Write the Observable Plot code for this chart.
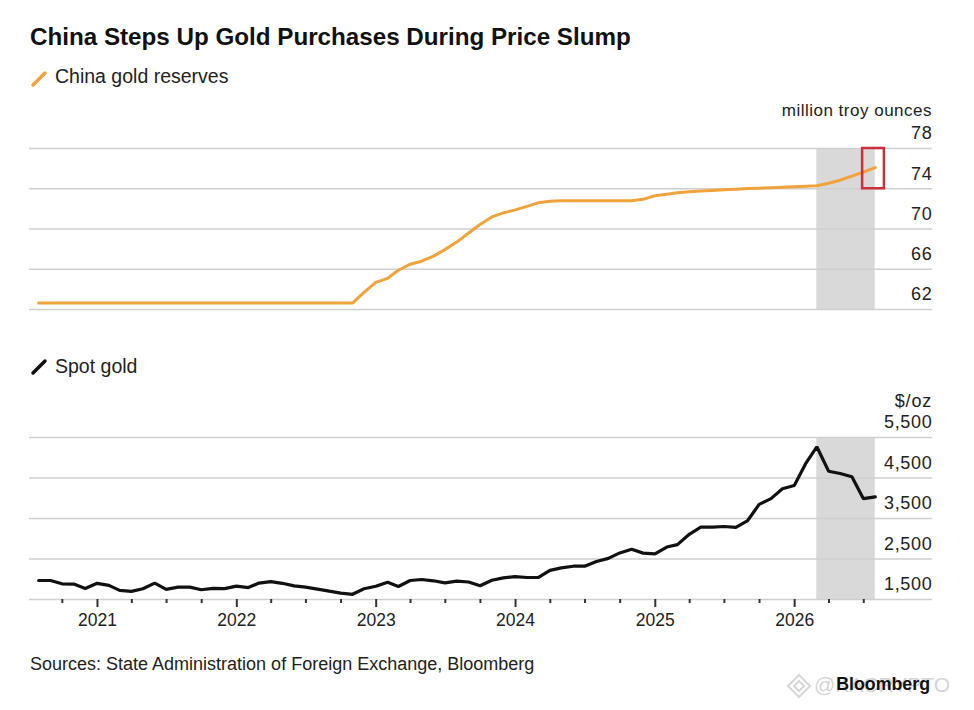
<!DOCTYPE html>
<html><head><meta charset="utf-8">
<script src="https://cdn.jsdelivr.net/npm/d3@7"></script>
<script src="https://cdn.jsdelivr.net/npm/@observablehq/plot@0.6"></script>
<style>
body{margin:0;background:#fff;}
#wrap{position:relative;width:974px;height:710px;font-family:"Liberation Sans",Arial,sans-serif;color:#111;overflow:hidden;background:#fff}
.t{position:absolute;line-height:1;white-space:nowrap}
.chart{position:absolute;left:0}
</style></head><body><div id="wrap">
<div class="t" style="left:30px;top:25px;font-size:24.2px;font-weight:bold;color:#111">China Steps Up Gold Purchases During Price Slump</div>
<svg class="t" style="left:30px;top:70px" width="18" height="18"><line x1="3" y1="15" x2="15" y2="3" stroke="#f0a33b" stroke-width="3.5" stroke-linecap="round"/></svg>
<div class="t" style="left:55px;top:66.5px;font-size:19.5px;color:#222">China gold reserves</div>
<div class="t" style="right:42px;top:102px;font-size:17px;letter-spacing:0.5px;color:#222">million troy ounces</div>
<div class="chart" id="c1" style="top:120px"></div>
<svg class="t" style="left:30px;top:358px" width="18" height="18"><line x1="3" y1="15" x2="15" y2="3" stroke="#111" stroke-width="3.5" stroke-linecap="round"/></svg>
<div class="t" style="left:55px;top:356.5px;font-size:19.5px;color:#222">Spot gold</div>
<div class="t" style="right:42px;top:391.5px;font-size:18px;letter-spacing:0.8px;color:#222">$/oz</div>
<div class="chart" id="c2" style="top:410px"></div>
<div class="t" style="left:30px;top:655px;font-size:18px;color:#222">Sources: State Administration of Foreign Exchange, Bloomberg</div>
<svg class="t" style="left:786px;top:673px" width="26" height="26"><path d="M13 2 L24 13 L13 24 L2 13 Z M13 8 L18 13 L13 18 L8 13 Z" fill="none" stroke="#d6d6d6" stroke-width="2"/></svg>
<div class="t" style="left:814px;top:674px;font-size:21px;color:#d4d4d4">@KACRYPTO</div>
<div class="t" style="right:44px;top:676px;font-size:17.8px;font-weight:bold;color:#111">Bloomberg</div>
</div>
<script>
const months = [
"2020-07","2020-08","2020-09","2020-10","2020-11","2020-12",
"2021-01","2021-02","2021-03","2021-04","2021-05","2021-06","2021-07","2021-08","2021-09","2021-10","2021-11","2021-12",
"2022-01","2022-02","2022-03","2022-04","2022-05","2022-06","2022-07","2022-08","2022-09","2022-10","2022-11","2022-12",
"2023-01","2023-02","2023-03","2023-04","2023-05","2023-06","2023-07","2023-08","2023-09","2023-10","2023-11","2023-12",
"2024-01","2024-02","2024-03","2024-04","2024-05","2024-06","2024-07","2024-08","2024-09","2024-10","2024-11","2024-12",
"2025-01","2025-02","2025-03","2025-04","2025-05","2025-06","2025-07","2025-08","2025-09","2025-10","2025-11","2025-12",
"2026-01","2026-02","2026-03","2026-04","2026-05","2026-06","2026-07"];
const reserves = [
62.64,62.64,62.64,62.64,62.64,62.64,
62.64,62.64,62.64,62.64,62.64,62.64,62.64,62.64,62.64,62.64,62.64,62.64,
62.64,62.64,62.64,62.64,62.64,62.64,62.64,62.64,62.64,62.64,63.7,64.7,
65.1,65.9,66.5,66.8,67.3,67.95,68.7,69.6,70.45,71.2,71.6,71.9,
72.25,72.6,72.75,72.8,72.8,72.8,72.8,72.8,72.8,72.8,72.95,73.3,
73.45,73.6,73.7,73.77,73.83,73.9,73.96,74.02,74.06,74.1,74.14,74.2,
74.25,74.3,74.55,74.85,75.25,75.65,76.1];
const spotGold = [
1969,1969,1888,1880,1770,1900,
1850,1725,1700,1765,1905,1750,1805,1805,1740,1775,1770,1829,
1795,1905,1940,1900,1838,1805,1755,1705,1658,1628,1764,1826,
1928,1822,1969,1994,1962,1912,1955,1932,1838,1975,2035,2065,
2043,2043,2220,2280,2322,2322,2440,2515,2650,2742,2645,2628,
2795,2855,3110,3286,3288,3302,3280,3450,3850,3990,4235,4315,
4875,5270,4667,4610,4530,3990,4035];
const reserveTicks = [62,66,70,74,78];
const goldTicks = [1500,2500,3500,4500,5500];
const yearTicks = ["2021-01-01","2022-01-01","2023-01-01","2024-01-01","2025-01-01","2026-01-01"];
const quarterTicks = ["2020-10-01","2021-04-01","2021-07-01","2021-10-01","2022-04-01","2022-07-01","2022-10-01",
"2023-04-01","2023-07-01","2023-10-01","2024-04-01","2024-07-01","2024-10-01","2025-04-01","2025-07-01","2025-10-01",
"2026-04-01","2026-07-01"];
const xDomain = ["2020-07-07","2026-12-28"];
const shade = [{start:"2026-02-28", end:"2026-07-31"}];
const box = [{x1:"2026-06-28", x2:"2026-08-24", y1:74, y2:78}];

const parseM = d3.utcParse("%Y-%m");
const monthEnd = s => d3.utcDay.offset(d3.utcMonth.offset(parseM(s), 1), -1);
const D = s => new Date(s + "T00:00:00Z");
const resData = months.map((m,i)=>({date: monthEnd(m), value: reserves[i]}));
const goldData = months.map((m,i)=>({date: monthEnd(m), value: spotGold[i]}));
const shadeData = shade.map(d=>({start:D(d.start), end:D(d.end)}));
const boxData = box.map(d=>({x1:D(d.x1), x2:D(d.x2), y1:d.y1, y2:d.y2}));
const xs = {type:"utc", domain: xDomain.map(D), axis: null};
const style = {fontFamily:"Liberation Sans, Arial, sans-serif", fontSize:"18px", color:"#222", background:"transparent", overflow:"visible"};
const yLabelStyle = {anchor:"right", tickSize:0, tickPadding:0, textAnchor:"end", dy:-15, fill:"#222", fontSize:18, label:null};

const p1 = Plot.plot({
  width:974, height:200, marginLeft:29, marginRight:42, marginTop:28, marginBottom:11,
  x: xs, y:{domain:[62,78], axis:null}, style,
  marks:[
    Plot.rect(shadeData, {x1:"start", x2:"end", fill:"#d9d9d9"}),
    Plot.gridY(reserveTicks, {stroke:"#cfcfcf", strokeOpacity:1, strokeWidth:1.5}),
    Plot.axisY(reserveTicks, yLabelStyle),
    Plot.lineY(resData, {x:"date", y:"value", stroke:"#f0a33b", strokeWidth:3}),
    Plot.rect(boxData, {x1:"x1", x2:"x2", y1:"y1", y2:"y2", fill:"none", stroke:"#c8313a", strokeWidth:2.5})
  ]
});
p1.querySelectorAll('[aria-label="y-axis tick label"] text').forEach(t=>t.setAttribute("letter-spacing","0.7"));
document.getElementById("c1").append(p1);

const p2 = Plot.plot({
  width:974, height:230, marginLeft:29, marginRight:42, marginTop:27, marginBottom:41,
  x: xs, y:{domain:[1500,5500], axis:null}, style,
  marks:[
    Plot.rect(shadeData, {x1:"start", x2:"end", fill:"#d9d9d9"}),
    Plot.gridY(goldTicks, {stroke:"#cfcfcf", strokeOpacity:1, strokeWidth:1.5}),
    Plot.axisY(goldTicks, {...yLabelStyle, tickFormat:d3.format(",")}),
    Plot.axisX(quarterTicks.map(D), {anchor:"bottom", tickSize:4, stroke:"#333", strokeWidth:2, text:null, label:null}),
    Plot.axisX(yearTicks.map(D), {anchor:"bottom", tickSize:8, tickPadding:6, stroke:"#333", strokeWidth:2, fill:"#222", fontSize:17.5, tickFormat:d3.utcFormat("%Y"), label:null}),
    Plot.lineY(goldData, {x:"date", y:"value", stroke:"#111", strokeWidth:3.2, strokeLinejoin:"miter"})
  ]
});
p2.querySelectorAll('[aria-label="y-axis tick label"] text').forEach(t=>t.setAttribute("letter-spacing","0.7"));
document.getElementById("c2").append(p2);
</script>
</body></html>
